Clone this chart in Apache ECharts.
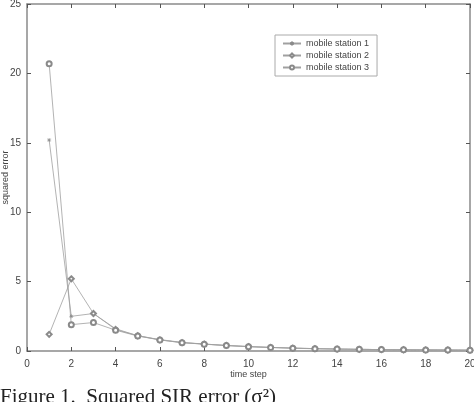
<!DOCTYPE html>
<html><head><meta charset="utf-8">
<script src="https://cdn.jsdelivr.net/npm/echarts@6/dist/echarts.min.js"></script>
<style>html,body{margin:0;padding:0;background:#fff}#c{width:474px;height:402px}</style>
</head><body><div id="c"></div>
<script>
const timeSteps = [1,2,3,4,5,6,7,8,9,10,11,12,13,14,15,16,17,18,19,20];
const station1 = [15.2,2.5,2.7,1.6,1.1,0.82,0.62,0.5,0.4,0.32,0.26,0.21,0.17,0.14,0.12,0.1,0.09,0.08,0.07,0.06];
const station2 = [1.2,5.2,2.7,1.55,1.1,0.8,0.6,0.5,0.4,0.32,0.26,0.21,0.17,0.14,0.12,0.1,0.09,0.08,0.07,0.06];
const station3 = [20.7,1.9,2.05,1.5,1.08,0.8,0.6,0.49,0.39,0.31,0.25,0.2,0.16,0.14,0.12,0.1,0.09,0.08,0.07,0.06];
const seriesNames = ['mobile station 1','mobile station 2','mobile station 3'];
const xTitle = 'time step';
const yTitle = 'squared error';
const caption = 'Figure 1.  Squared SIR error (\u03c3\u00b2)';

const starPath = 'path://M5,0L5,10M0,5L10,5M1.5,1.5L8.5,8.5M8.5,1.5L1.5,8.5';
const lineCol = '#a0a0a0';
const markCol = '#8a8a8a';
const axisCol = '#8a8a8a';
const txtCol = '#444';
const font = 'Liberation Sans, Arial, sans-serif';

function mk(name, vals, symbol, size) {
  return {
    name, type: 'line', data: timeSteps.map((t,i)=>[t, vals[i]]),
    symbol, symbolSize: size, showAllSymbol: true,
    lineStyle: {color: lineCol, width: 0.8},
    itemStyle: {color: markCol, borderColor: markCol, borderWidth: 0.7},
    emphasis: {disabled: true}, animation: false
  };
}
const chart = echarts.init(document.getElementById('c'), null, {renderer: 'canvas'});
const axBase = {
  min: 0, axisLine: {show: true, onZero: false, lineStyle: {color: axisCol, width: 1.5}},
  axisTick: {inside: true, length: 4, lineStyle: {color: '#555', width: 1}},
  splitLine: {show: false},
  axisLabel: {color: txtCol, fontSize: 10, fontFamily: font}
};
chart.setOption({
  animation: false,
  grid: {left: 27, right: 4, top: 4, bottom: 51, containLabel: false, outerBoundsMode: 'none'},
  xAxis: [
    Object.assign({}, axBase, {type: 'value', max: 20, interval: 2, position: 'bottom',
      name: xTitle, nameLocation: 'middle', nameGap: 19, nameMoveOverlap: false,
      nameTextStyle: {color: txtCol, fontSize: 9, fontFamily: font},
      axisLabel: Object.assign({}, axBase.axisLabel, {margin: 8})}),
    Object.assign({}, axBase, {type: 'value', max: 20, interval: 2, position: 'top', axisLabel: {show: false}})
  ],
  yAxis: [
    Object.assign({}, axBase, {type: 'value', max: 25, interval: 5, position: 'left',
      name: yTitle, nameLocation: 'middle', nameGap: 17, nameRotate: 90, nameMoveOverlap: false,
      nameTextStyle: {color: txtCol, fontSize: 9, fontFamily: font},
      axisLabel: Object.assign({}, axBase.axisLabel, {margin: 6})}),
    Object.assign({}, axBase, {type: 'value', max: 25, interval: 5, position: 'right', axisLabel: {show: false}})
  ],
  legend: {
    left: 275, top: 35, width: 105, orient: 'vertical',
    itemWidth: 18, itemHeight: 5, itemGap: 3,
    padding: [4, 8, 4, 7], borderColor: '#aaa', borderWidth: 1, backgroundColor: '#fff',
    textStyle: {color: txtCol, fontSize: 9, fontFamily: font},
    data: seriesNames
  },
  series: [
    mk(seriesNames[0], station1, starPath, 4),
    mk(seriesNames[1], station2, 'emptyDiamond', 5),
    mk(seriesNames[2], station3, 'emptyCircle', 5)
  ],
  graphic: [{
    type: 'text', left: 0, top: 387,
    style: {text: caption, fill: '#222', font: '21px "Liberation Serif", "Times New Roman", serif'}
  }]
});
</script></body></html>
